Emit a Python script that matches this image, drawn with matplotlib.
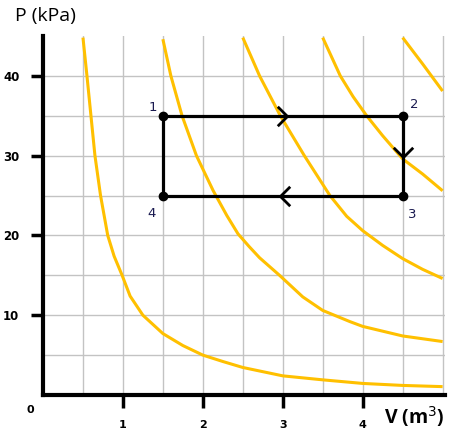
import matplotlib
matplotlib.use('Agg')
import matplotlib.pyplot as plt
from matplotlib.path import Path
import numpy as np

# isotherm-like curves (V in m3, P in kPa)
V1 = [0.50, 0.55, 0.60, 0.65, 0.72, 0.81, 0.89, 0.99, 1.09, 1.25, 1.5, 1.75, 2.0, 2.25, 2.5, 3.0, 3.5, 4.0, 4.5, 5.0]
P1 = [44.8, 40.0, 35.0, 30.0, 25.0, 20.0, 17.4, 15.0, 12.4, 10.0, 7.7, 6.2, 5.0, 4.2, 3.45, 2.4, 1.9, 1.45, 1.2, 1.05]
V2 = [1.5, 1.6, 1.74, 1.92, 2.13, 2.3, 2.44, 2.58, 2.71, 2.96, 3.25, 3.5, 3.84, 4.0, 4.5, 5.0]
P2 = [44.6, 40.0, 35.0, 30.0, 25.6, 22.5, 20.2, 18.6, 17.2, 15.0, 12.3, 10.6, 9.2, 8.6, 7.4, 6.7]
V3 = [2.5, 2.71, 2.97, 3.27, 3.59, 3.8, 4.0, 4.25, 4.5, 4.75, 5.0]
P3 = [44.8, 40.0, 35.0, 30.0, 25.0, 22.4, 20.6, 18.75, 17.1, 15.75, 14.6]
V4 = [3.5, 3.72, 3.88, 4.05, 4.25, 4.5, 4.75, 5.0]
P4 = [44.8, 40.0, 37.4, 35.0, 32.5, 29.6, 27.7, 25.6]
V5 = [4.5, 4.75, 5.0]
P5 = [44.8, 41.5, 38.1]
curves = [(V1, P1), (V2, P2), (V3, P3), (V4, P4), (V5, P5)]

# the cycle 1-2-3-4
cycle_labels = ['1', '2', '3', '4']
cycle_V = [1.5, 4.5, 4.5, 1.5]
cycle_P = [35, 35, 25, 25]

# direction arrows on the cycle
arrow_V = [3.05, 4.5, 2.96]
arrow_P = [35, 29.8, 25]
arrow_dir = ['right', 'down', 'left']

x_ticks = [1, 2, 3, 4]
y_ticks = [10, 20, 30, 40]

fig = plt.figure(figsize=(4.49, 4.38), dpi=100)
ax = fig.add_axes([43 / 449, 43 / 438, 402 / 449, 359 / 438])

for v, p in curves:
    ax.plot(v, p, color='#ffc000', lw=2.2, solid_capstyle='butt',
            solid_joinstyle='round', zorder=2)

ax.plot(cycle_V + cycle_V[:1], cycle_P + cycle_P[:1], color='black', lw=2.3, zorder=3)
ax.plot(cycle_V, cycle_P, 'o', color='black', ms=6, zorder=4)

chevrons = {
    'right': Path([(-1, 1), (0, 0), (-1, -1)]),
    'left': Path([(1, 1), (0, 0), (1, -1)]),
    'down': Path([(-1, 1), (0, 0), (1, 1)]),
}
for v, p, d in zip(arrow_V, arrow_P, arrow_dir):
    ax.plot(v, p, marker=chevrons[d], ms=14, mfc='none', mec='black', mew=2.0,
            ls='none', zorder=5)

offsets = {'1': (-7, 6), '2': (8, 8), '3': (7, -14), '4': (-8, -13)}
for lab, v, p in zip(cycle_labels, cycle_V, cycle_P):
    ax.annotate(lab, (v, p), xytext=offsets[lab], textcoords='offset points',
                ha='center', va='center', fontsize=9.5, color='#1a1a50',
                family='DejaVu Sans')

ax.set_xlim(0, 5.03)
ax.set_ylim(0, 45)

ax.set_xticks(x_ticks)
ax.set_xticklabels([str(t) for t in x_ticks])
ax.set_yticks(y_ticks)
ax.set_yticklabels([str(t) for t in y_ticks])
ax.set_xticks(np.arange(0.5, 5.01, 0.5), minor=True)
ax.set_yticks(np.arange(5, 44, 5), minor=True)
ax.grid(True, which='both', color='#c3c3c3', lw=1.0, zorder=0)
ax.set_axisbelow(True)

ax.tick_params(which='minor', length=0)
ax.tick_params(axis='x', which='major', length=9, width=2.5, pad=9, labelsize=8)
ax.tick_params(axis='y', which='major', length=9, width=2.5, pad=8, labelsize=8.5)
for lbl in ax.get_xticklabels() + ax.get_yticklabels():
    lbl.set_fontweight('bold')

for s in ['top', 'right']:
    ax.spines[s].set_visible(False)
for s in ['left', 'bottom']:
    ax.spines[s].set_linewidth(3)
    ax.spines[s].set_color('black')

fig.text(30 / 449, 1 - 410 / 438, '0', ha='center', va='center',
         fontsize=8, fontweight='bold')
fig.text(15 / 449, 1 - 16 / 438, 'P (kPa)', ha='left', va='center',
         fontsize=14, family='Open Sans')
fig.text(445 / 449, 1 - 417 / 438, 'V (m$^3$)', ha='right', va='center',
         fontsize=14, fontweight='bold', family='Open Sans')

fig.savefig('out.png', dpi=100)
